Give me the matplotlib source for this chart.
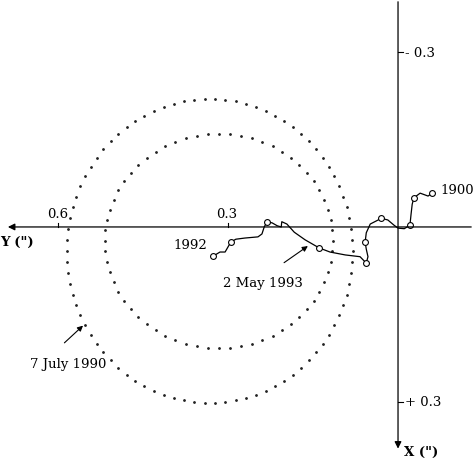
import numpy as np
import matplotlib.pyplot as plt

# polar path (arcsec): Y (to the left), X (downward)
path_Y = [0.326,0.314,0.305,0.295,0.286,0.270,0.247,0.240,0.236,0.231,0.222,0.213,0.206,0.205,0.196,0.183,0.164,0.139,0.120,0.093,0.067,0.056,0.053,0.056,0.058,0.056,0.049,0.035,0.030,0.018,0.007,0.0,-0.011,-0.021,-0.023,-0.025,-0.028,-0.039,-0.053,-0.060]
path_X = [0.050,0.043,0.043,0.026,0.021,0.019,0.017,0.012,0.0,-0.009,-0.007,-0.002,0.0,-0.009,-0.005,0.009,0.022,0.036,0.043,0.048,0.051,0.062,0.051,0.038,0.026,0.010,-0.005,-0.012,-0.015,-0.012,-0.003,0.002,0.003,-0.003,-0.022,-0.039,-0.050,-0.058,-0.053,-0.058]
marker_idx = [0,3,9,17,21,24,28,33,36,39]
# dotted loci: centre Y, centre X, radius Y, radius X, number of dots
outer = (0.332, 0.041, 0.252, 0.261, 86)
inner = (0.316, 0.024, 0.201, 0.184, 64)

fig = plt.figure(figsize=(4.74, 4.6), dpi=100)
ax = fig.add_axes([0, 0, 1, 1])
ax.set_xlim(0.702, -0.134)
ax.set_ylim(0.398, -0.391)
ax.axis('off')
serif = 'DejaVu Serif'

for cy, cx, ry, rx, n in (outer, inner):
    t = np.linspace(0, 2*np.pi, n, endpoint=False)
    ax.plot(cy + ry*np.cos(t), cx + rx*np.sin(t), ls='none', marker='o', ms=1.0, color='#222222')

ax.plot(path_Y, path_X, color='black', lw=0.9)
ax.plot([path_Y[i] for i in marker_idx], [path_X[i] for i in marker_idx], ls='none',
        marker='o', ms=4.2, mfc='white', mec='black', mew=0.8)

# axes lines with arrows
ax.annotate('', xy=(0.693, 0), xytext=(-0.134, 0),
            arrowprops=dict(arrowstyle='-|>', color='black', lw=0.9, mutation_scale=10))
ax.annotate('', xy=(0, 0.385), xytext=(0, -0.391),
            arrowprops=dict(arrowstyle='-|>', color='black', lw=0.9, mutation_scale=10))
for v in (-0.3, 0.3):
    ax.plot([0, -0.008], [v, v], color='black', lw=0.8)
for v in (0.3, 0.6):
    ax.plot([v, v], [0, -0.006], color='black', lw=0.8)

fs = 9.5
ax.text(-0.012, -0.3, '- 0.3', fontsize=fs, family=serif, va='center', ha='left')
ax.text(-0.012, 0.3, '+ 0.3', fontsize=fs, family=serif, va='center', ha='left')
ax.text(0.303, -0.012, '0.3', fontsize=fs, family=serif, ha='center', va='bottom')
ax.text(0.601, -0.012, '0.6', fontsize=fs, family=serif, ha='center', va='bottom')
ax.text(0.702, 0.025, 'Y (")', fontsize=fs, family=serif, ha='left', va='center', weight='bold')
ax.text(-0.01, 0.385, 'X (")', fontsize=fs, family=serif, ha='left', va='center', weight='bold')
ax.text(-0.075, -0.065, '1900', fontsize=fs, family=serif, ha='left', va='center')
ax.text(0.367, 0.030, '1992', fontsize=fs, family=serif, ha='center', va='center')
ax.text(0.238, 0.095, '2 May 1993', fontsize=fs, family=serif, ha='center', va='center')
ax.text(0.582, 0.235, '7 July 1990', fontsize=fs, family=serif, ha='center', va='center')
ax.annotate('', xy=(0.155, 0.030), xytext=(0.205, 0.064),
            arrowprops=dict(arrowstyle='-|>', color='black', lw=0.8, mutation_scale=8))
ax.annotate('', xy=(0.552, 0.166), xytext=(0.592, 0.202),
            arrowprops=dict(arrowstyle='-|>', color='black', lw=0.8, mutation_scale=8))

fig.savefig('out.png', dpi=100)
